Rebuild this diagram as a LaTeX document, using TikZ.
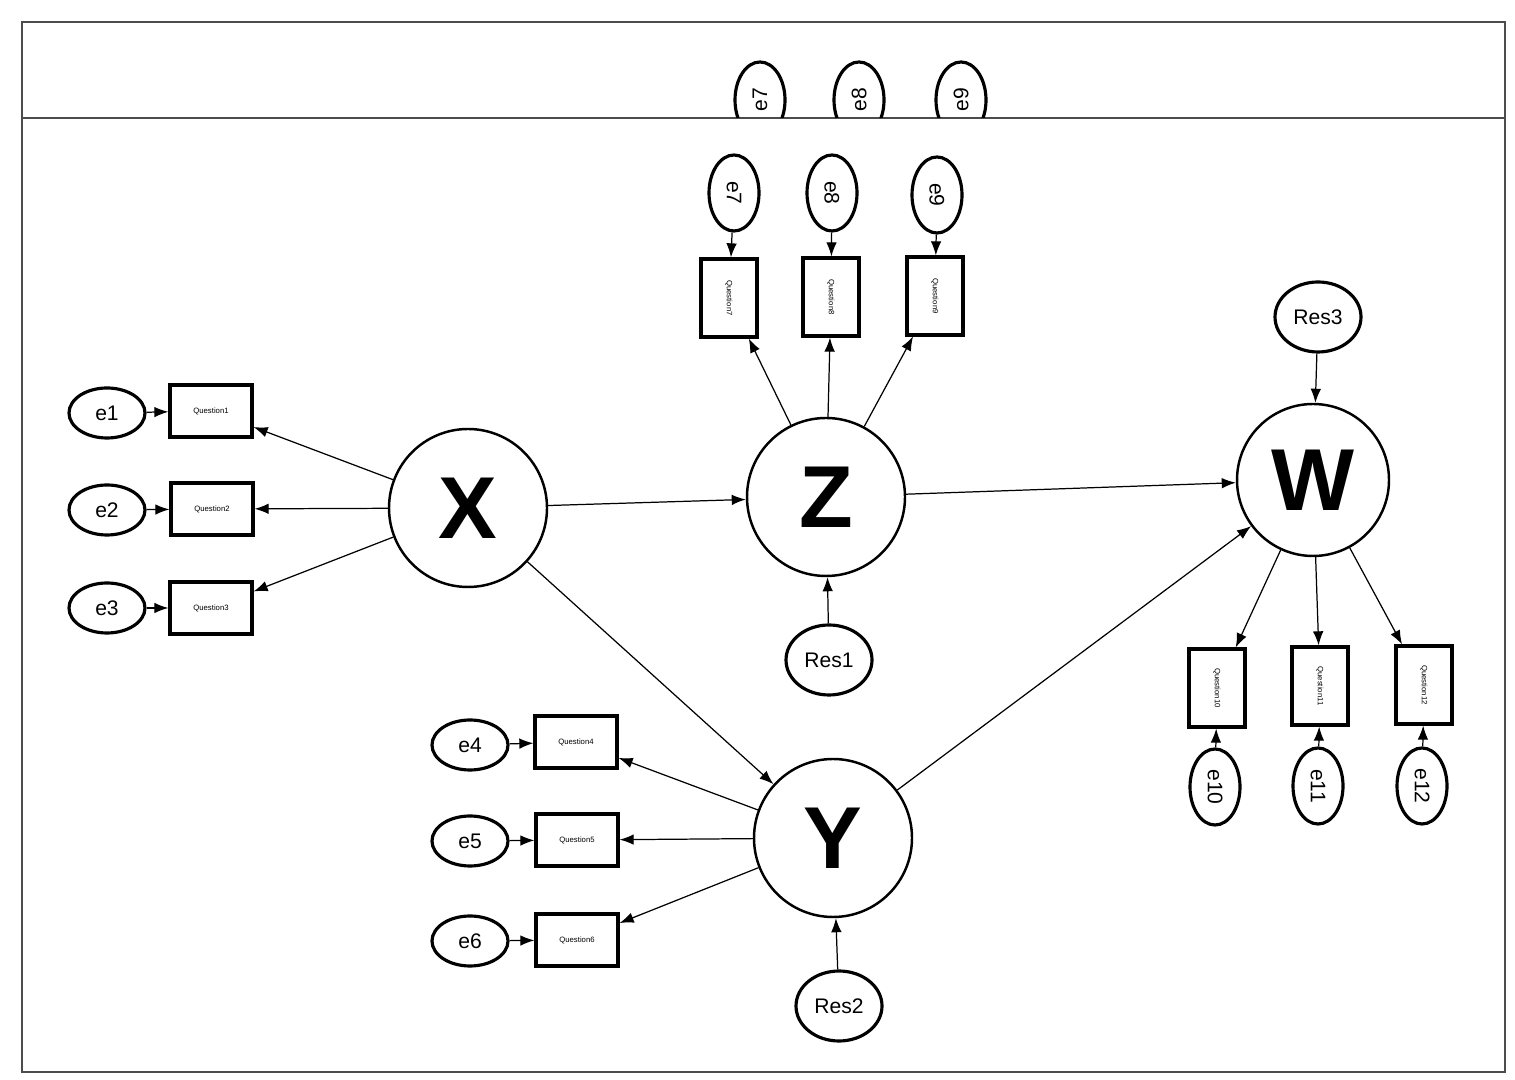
\documentclass[tikz,border=0pt]{standalone}
\usepackage{fontspec}
\setmainfont{Liberation Sans}
\usetikzlibrary{shapes.geometric,arrows.meta}
\begin{document}
\begin{tikzpicture}[x=0.01cm,y=-0.01cm,
 err/.style={ellipse,draw,line width=0.9pt,minimum width=76\pgfmlength,minimum height=50\pgfmlength,inner sep=0pt,font=\fontsize{6}{7}\selectfont},
 verr/.style={err,minimum width=50\pgfmlength,minimum height=76\pgfmlength},
 res/.style={ellipse,draw,line width=0.9pt,minimum width=86\pgfmlength,minimum height=70\pgfmlength,inner sep=0pt,font=\fontsize{6}{7}\selectfont},
 q/.style={rectangle,draw,line width=0.9pt,minimum width=82\pgfmlength,minimum height=52\pgfmlength,inner sep=0pt,font=\fontsize{2.2}{3}\selectfont},
 vq/.style={q,minimum width=56\pgfmlength,minimum height=78\pgfmlength},
 lat/.style={circle,draw,line width=0.7pt,minimum size=158\pgfmlength,inner sep=0pt,font=\fontsize{25}{28}\selectfont\bfseries},
 ar/.style={-{Latex[length=4pt,width=3pt]},line width=0.35pt}]
\def\pgfmlength{*0.01cm}
\path[use as bounding box] (0,0) rectangle (1515,1080);
\draw[line width=0.8pt,black!70] (22,22) rectangle (1505,1072);
\draw[line width=0.8pt,black!70] (22,118) -- (1505,118);
\begin{scope}
\clip (22,22) rectangle (1505,118);
\foreach \x/\t in {760/e7,859/e8,961/e9}
 \node[verr,font=\fontsize{6}{7}\selectfont] at (\x,100) {\rotatebox{90}{\t}};
\end{scope}
\node[lat] (X) at (468,508) {X};
\node[lat] (Z) at (826,497) {Z};
\node[lat] (Y) at (833,838) {Y};
\node[lat,minimum size=152\pgfmlength] (W) at (1313,480) {W};
\node[q] (q1) at (211,411) {Question1};
\node[q] (q2) at (212,509) {Question2};
\node[q] (q3) at (211,608) {Question3};
\node[err] (e1) at (107,413) {e1};
\node[err] (e2) at (107,510) {e2};
\node[err] (e3) at (107,608) {e3};
\node[q] (q4) at (576,742) {Question4};
\node[q] (q5) at (577,840) {Question5};
\node[q] (q6) at (577,940) {Question6};
\node[err] (e4) at (470,745) {e4};
\node[err] (e5) at (470,841) {e5};
\node[err] (e6) at (470,941) {e6};
\node[vq] (q7) at (729,298) {\rotatebox{-90}{Question7}};
\node[vq] (q8) at (831,297) {\rotatebox{-90}{Question8}};
\node[vq] (q9) at (935,296) {\rotatebox{-90}{Question9}};
\node[verr] (e7) at (734,193) {\rotatebox{-90}{e7}};
\node[verr] (e8) at (832,193) {\rotatebox{-90}{e8}};
\node[verr] (e9) at (937,195) {\rotatebox{-90}{e9}};
\node[vq] (q10) at (1217,688) {\rotatebox{-90}{Question10}};
\node[vq] (q11) at (1320,686) {\rotatebox{-90}{Question11}};
\node[vq] (q12) at (1424,685) {\rotatebox{-90}{Question12}};
\node[verr] (e10) at (1215,787) {\rotatebox{-90}{e10}};
\node[verr] (e11) at (1318,786) {\rotatebox{-90}{e11}};
\node[verr] (e12) at (1422,786) {\rotatebox{-90}{e12}};
\node[res] (r1) at (829,660) {Res1};
\node[res] (r2) at (839,1006) {Res2};
\node[res] (r3) at (1318,317) {Res3};
\foreach \a/\b in {e1/q1,e2/q2,e3/q3,e4/q4,e5/q5,e6/q6,e7/q7,e8/q8,e9/q9,e10/q10,e11/q11,e12/q12,
 X/q1,X/q2,X/q3,Y/q4,Y/q5,Y/q6,Z/q7,Z/q8,Z/q9,W/q10,W/q11,W/q12,X/Z,X/Y,Z/W,Y/W,r1/Z,r2/Y,r3/W}
 \draw[ar] (\a) -- (\b);
\end{tikzpicture}
\end{document}
